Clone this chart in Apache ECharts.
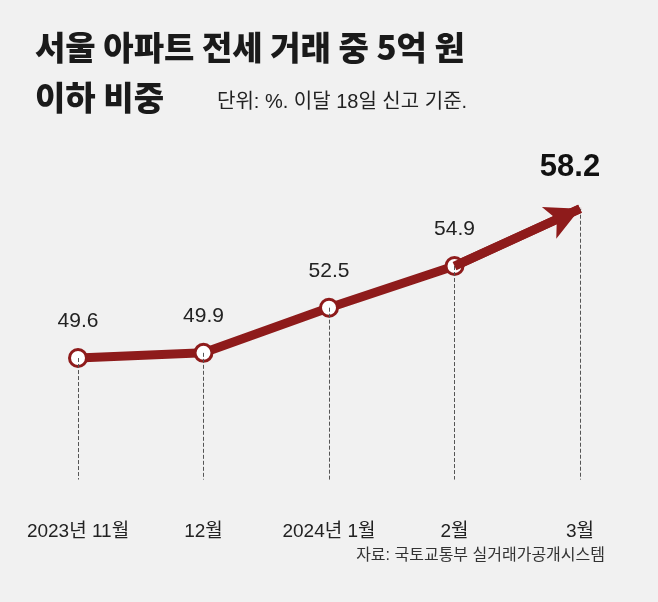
<!DOCTYPE html>
<html><head><meta charset="utf-8">
<script src="https://cdn.jsdelivr.net/npm/echarts@6/dist/echarts.min.js"></script>
<style>html,body{margin:0;padding:0;background:#f1f1f1}#chart{width:658px;height:602px}</style>
</head><body><div id="chart"></div>
<script>
var categories = ['2023년 11월', '12월', '2024년 1월', '2월', '3월'];
var values = [49.6, 49.9, 52.5, 54.9, 58.2];
var baseValue = 42.6;

var RED = '#8e1b1b';
var FONT = '"Liberation Sans", "Noto Sans CJK KR", sans-serif';
var KFONT = '"Noto Sans CJK KR", sans-serif';

var chart = echarts.init(document.getElementById('chart'));

var dashLines = values.map(function (v, i) {
    return [{ coord: [i, v] }, { coord: [i, baseValue] }];
});

var option = {
    backgroundColor: '#f1f1f1',
    textStyle: { fontFamily: FONT },
    title: [
        { text: '서울 아파트 전세 거래 중 5억 원', left: 30, top: 26,
          textStyle: { fontSize: 33, fontWeight: 900, color: '#1a1a1a', fontFamily: KFONT } },
        { text: '이하 비중', left: 30, top: 76,
          textStyle: { fontSize: 33, fontWeight: 900, color: '#1a1a1a', fontFamily: KFONT } },
        { text: '단위: %. 이달 18일 신고 기준.', left: 212, top: 87,
          textStyle: { fontSize: 20, fontWeight: 'normal', color: '#222', fontFamily: FONT } },
        { text: '자료: 국토교통부 실거래가공개시스템', right: 48, top: 543,
          textStyle: { fontSize: 16, fontWeight: 'normal', color: '#333', fontFamily: FONT } }
    ],
    grid: { left: 78, right: 78, top: 177.5, bottom: 77.3 },
    xAxis: {
        type: 'category', data: categories, boundaryGap: false,
        axisLine: { show: false }, axisTick: { show: false },
        axisLabel: { interval: 0, fontSize: 19, color: '#222', margin: -2, fontFamily: FONT }
    },
    yAxis: { type: 'value', min: 40, max: 60, show: false },
    series: [{
        type: 'line',
        data: values.map(function (v, i) {
            var item = { value: v };
            if (i === values.length - 1) {
                item.symbolSize = 0.1;
                item.label = { show: true, fontSize: 31, fontWeight: 'bold', color: '#111', offset: [-10, -8] };
            }
            return item;
        }),
        symbol: 'circle', symbolSize: 17,
        itemStyle: { color: '#fff', borderColor: RED, borderWidth: 3 },
        lineStyle: { color: RED, width: 9 },
        label: { show: true, position: 'top', distance: 16, fontSize: 21, color: '#222' },
        z: 3,
        markLine: {
            silent: true, symbol: 'none', animation: false,
            lineStyle: { type: 'dashed', color: '#555', width: 1 },
            label: { show: false },
            data: dashLines.concat([[
                { coord: [3, values[3]], symbol: 'none', lineStyle: { type: 'solid', color: RED, width: 9 } },
                { coord: [4, values[4]], symbol: 'arrow', symbolSize: [26, 34], lineStyle: { type: 'solid', color: RED, width: 9 } }
            ]])
        }
    }]
};
chart.setOption(option);
</script></body></html>
